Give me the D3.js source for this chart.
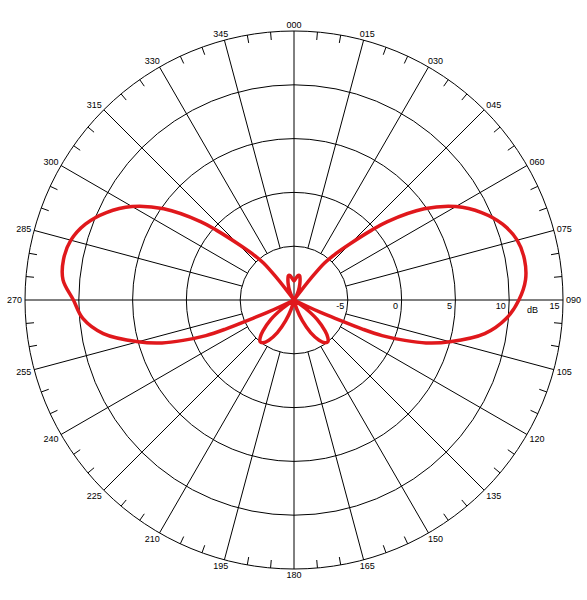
<!DOCTYPE html>
<html>
<head>
<meta charset="utf-8">
<script src="https://cdn.jsdelivr.net/npm/d3@7"></script>
<style>
  html, body { margin: 0; padding: 0; background: #fff; }
  svg { display: block; }
  text { font-family: "Liberation Sans", Arial, sans-serif; font-size: 9px; fill: #000; }
</style>
</head>
<body>
<svg id="chart" width="587" height="600"></svg>
<script>
// ---- data (compass degrees, clockwise from north) ----
const angles = [0,5,10,13,16,20,25,30,33,37,38,39.5,42,45,48,50,55,60,65,70,75,80,85,90,95,100,105,108,110,112,113,114,115,116,117,
  123,126,130,135,138,141,144,148,153,158,163,167,180,
  193,197,202,207,212,216,219,222,225,230,234,237,
  243,244,245,246,247,248,250,252,255,260,265,270,275,280,285,290,295,300,305,310,312,315,318,320.5,322,323,
  327,330,335,340,344,347,350,355];
const gainDb = [-8.23,-7.96,-7.68,-7.68,-7.96,-8.42,-8.98,-9.54,-10,-10,-7.40,-5.54,-4.24,-2.57,-0.33,1.34,4.78,7.38,9.24,10.63,11.47,11.75,11.6,10.9,9.8,8.0,5.0,2.9,0.97,-1.17,-3.03,-5.82,-7.21,-8.88,-10,
  -10,-8.7,-7.2,-5.9,-5.3,-5.0,-5.1,-5.6,-6.6,-7.9,-9.1,-10,-10,
  -10,-9.1,-7.9,-6.6,-5.6,-5.1,-5.0,-5.3,-5.9,-7.2,-8.7,-10,
  -10,-8.88,-7.21,-5.82,-3.03,-1.17,0.97,2.9,5.0,8.0,9.7,10.5,11.55,11.75,11.47,10.63,9.24,7.38,4.78,1.34,-0.33,-2.57,-4.24,-5.54,-7.40,-10,
  -10,-9.54,-8.98,-8.42,-7.96,-7.68,-7.68,-7.96];
const ringTicks = [-5, 0, 5, 10, 15];
const angleTicks = [0,15,30,45,60,75,90,105,120,135,150,165,180,195,210,225,240,255,270,285,300,315,330,345];
const minorTicks = [5,10,20,25,35,40,50,55,65,70,80,85,95,100,110,115,125,130,140,145,155,160,170,175,
  185,190,200,205,215,220,230,235,245,250,260,265,275,280,290,295,305,310,320,325,335,340,350,355];
const unitLabel = "dB";

// ---- layout ----
const cx = 294, cy = 300, R = 269;
const svg = d3.select("#chart");
const g = svg.append("g").attr("transform", `translate(${cx},${cy})`);
const r = d3.scaleLinear().domain([-10, 15]).range([0, R]).clamp(true);
const rad = d => d * Math.PI / 180;
const px = (deg, rr) => rr * Math.sin(rad(deg));
const py = (deg, rr) => -rr * Math.cos(rad(deg));

// rings
g.selectAll("circle.ring").data(ringTicks).enter().append("circle")
  .attr("r", d => r(d)).attr("fill", "none").attr("stroke", "#000").attr("stroke-width", 1);

// spokes
g.selectAll("line.spoke").data(angleTicks).enter().append("line")
  .attr("x1", d => d % 90 === 0 ? 0 : px(d, r(-5)))
  .attr("y1", d => d % 90 === 0 ? 0 : py(d, r(-5)))
  .attr("x2", d => px(d, R)).attr("y2", d => py(d, R))
  .attr("stroke", "#000").attr("stroke-width", 1);

// minor ticks
g.selectAll("line.minor").data(minorTicks).enter().append("line")
  .attr("x1", d => px(d, R)).attr("y1", d => py(d, R))
  .attr("x2", d => px(d, R - 8)).attr("y2", d => py(d, R - 8))
  .attr("stroke", "#000").attr("stroke-width", 1);

// angle labels
const fmt = d3.format("03d");
const clamp1 = v => Math.max(-1, Math.min(1, v));
const capH = 6.4;
g.selectAll("text.ang").data(angleTicks).enter().append("text")
  .attr("text-anchor", "middle")
  .text(d => fmt(d))
  .each(function(d) {
    const w = this.getComputedTextLength();
    const s = clamp1(1.5 * Math.sin(rad(d))), c = clamp1(1.5 * Math.cos(rad(d)));
    const x = px(d, R + 3) + (w / 2) * s;
    const y = py(d, R + 3) + capH / 2 - (capH / 2) * c;
    d3.select(this).attr("x", x).attr("y", y);
  });

// ring labels
g.selectAll("text.ring").data(ringTicks).enter().append("text")
  .attr("text-anchor", "end")
  .attr("x", d => r(d) - 3.5).attr("y", 8.7)
  .text(d => d);

g.append("text").attr("text-anchor", "middle").attr("x", 238.5).attr("y", 13).text(unitLabel);

// pattern
const pts = angles.map((a, i) => [rad(a), r(gainDb[i])]);
const line = d3.lineRadial().angle(d => d[0]).radius(d => d[1]).curve(d3.curveCatmullRomClosed.alpha(0.5));
g.append("path").attr("d", line(pts)).attr("fill", "none")
  .attr("stroke", "#e0181c").attr("stroke-width", 3.5).attr("stroke-linejoin", "round");
</script>
</body>
</html>
